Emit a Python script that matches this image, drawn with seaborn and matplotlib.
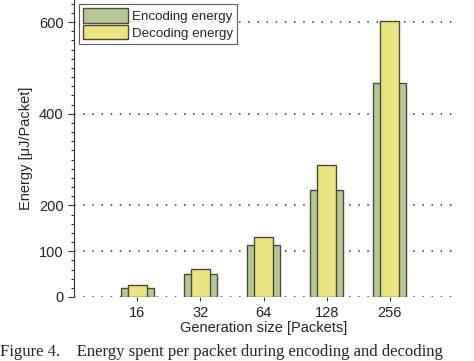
import pandas as pd
import seaborn as sns
import matplotlib.pyplot as plt
import matplotlib.patches as mpatches
from matplotlib.ticker import MultipleLocator

# Generation sizes and energy per packet (uJ/Packet)
gen_sizes = ['16', '32', '64', '128', '256']
encoding_energy = [20, 50, 113, 233, 467]
decoding_energy = [26, 61, 131, 288, 602]

enc_color = '#b7c897'
dec_color = '#e9e47f'
edge_color = '#4a4a3a'

df = pd.DataFrame({'size': gen_sizes, 'enc': encoding_energy, 'dec': decoding_energy})

sns.set_style('ticks')
plt.rcParams['font.family'] = ['Liberation Sans', 'DejaVu Sans']

fig = plt.figure(figsize=(4.74, 3.61), dpi=100)
ax = fig.add_axes([74 / 474, 1 - 297 / 361, 379 / 474, 297 / 361])

# dotted gridlines first so the bars sit on top
for y in [0, 100, 200, 400, 600]:
    ax.axhline(y, color='#333333', ls=(0, (1, 5)), lw=1.1, zorder=0)

# wide encoding bars behind, narrow decoding bars in front
sns.barplot(data=df, x='size', y='enc', color=enc_color, width=0.52,
            edgecolor=edge_color, linewidth=1.0, saturation=1, ax=ax, zorder=2)
sns.barplot(data=df, x='size', y='dec', color=dec_color, width=0.3,
            edgecolor=edge_color, linewidth=1.0, saturation=1, ax=ax, zorder=3)

ax.set_xlim(-1, 5)
ax.set_ylim(0, 648)
ax.set_yticks([0, 100, 200, 400, 600])
ax.yaxis.set_minor_locator(MultipleLocator(20))
ax.tick_params(axis='y', which='major', length=4, width=0.8, labelsize=10.5, color='#333333')
ax.tick_params(axis='y', which='minor', length=2, width=0.8, color='#333333')
ax.tick_params(axis='x', which='major', length=3, width=0.8, labelsize=10.5, color='#333333')

for s in ['top', 'right', 'bottom']:
    ax.spines[s].set_visible(False)
ax.spines['left'].set_color('#333333')
ax.spines['left'].set_linewidth(0.8)

ax.set_xlabel('Generation size [Packets]', fontsize=10.5, labelpad=1)
ax.set_ylabel('Energy [\u03bcJ/Packet]', fontsize=10.5, labelpad=4)

handles = [mpatches.Patch(facecolor=enc_color, edgecolor=edge_color, label='Encoding energy'),
           mpatches.Patch(facecolor=dec_color, edgecolor=edge_color, label='Decoding energy')]
leg = ax.legend(handles=handles, loc='upper left', bbox_to_anchor=(0.005, 0.995),
                fontsize=9.6, frameon=True, fancybox=False, borderpad=0.3,
                handlelength=3.4, handleheight=1.3, handletextpad=0.3,
                labelspacing=0.15, borderaxespad=0.2)
leg.get_frame().set_edgecolor('#333333')
leg.get_frame().set_linewidth(0.8)

fig.text(0.0, 1 - 344 / 361,
         'Figure 4.    Energy spent per packet during encoding and decoding',
         fontsize=12, family=['Liberation Serif', 'DejaVu Serif'], va='top', ha='left')

fig.savefig('out.png', dpi=100)
